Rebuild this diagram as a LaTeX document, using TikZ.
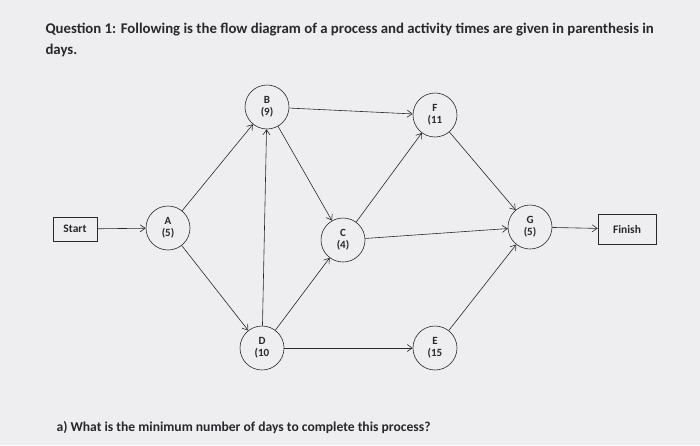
\documentclass[tikz,border=0pt]{standalone}
\usepackage{fontspec}
\setmainfont{Carlito}
\usetikzlibrary{arrows.meta}
\definecolor{bg}{RGB}{238,238,240}
\definecolor{ink}{RGB}{40,40,45}
\begin{document}
\begin{tikzpicture}[x=1pt,y=-1pt,
  act/.style={circle,draw=ink,line width=0.6pt,minimum size=44pt,inner sep=0pt,align=center,font=\fontsize{11}{12}\selectfont\bfseries,text=ink},
  term/.style={rectangle,draw=ink,line width=0.6pt,font=\fontsize{11.5}{12}\selectfont\bfseries,text=ink,minimum height=24pt},
  conn/.style={draw=ink,line width=0.6pt,-{Straight Barb[length=5pt,width=7pt]}},
  txt/.style={anchor=west,font=\fontsize{13.6}{15}\selectfont\bfseries,text=ink},
  ttl/.style={txt,font=\fontsize{14.8}{16}\selectfont\bfseries}]
\fill[bg] (0,0) rectangle (700,445);
\useasboundingbox (0,0) rectangle (700,445);
\node[ttl] (t1) at (42,30) {Question 1: Following is the flow diagram of a process and activity times are given in parenthesis in};
\node[ttl] (t2) at (42,50) {days.};
\node[term,minimum width=44pt] (start) at (75,229) {Start};
\node[term,minimum width=58pt,minimum height=30pt] (fin) at (627,229) {Finish};
\node[act] (A) at (168,228) {A\\(5)};
\node[act] (B) at (267,107) {B\\(9)};
\node[act] (F) at (435,115) {F\\(11};
\node[act] (C) at (343,240) {C\\(4)};
\node[act] (G) at (530,227) {G\\(5)};
\node[act] (D) at (262,348) {D\\(10};
\node[act] (E) at (435,348) {E\\(15};
\draw[conn] (start) -- (A);
\draw[conn] (A) -- (B);
\draw[conn] (A) -- (D);
\draw[conn] (B) -- (F);
\draw[conn] (B) -- (C);
\draw[conn] (D) -- (B);
\draw[conn] (D) -- (C);
\draw[conn] (D) -- (E);
\draw[conn] (C) -- (F);
\draw[conn] (C) -- (G);
\draw[conn] (F) -- (G);
\draw[conn] (E) -- (G);
\draw[conn] (G) -- (fin);
\node[txt] (q) at (53,428) {a) What is the minimum number of days to complete this process?};
\end{tikzpicture}
\end{document}
